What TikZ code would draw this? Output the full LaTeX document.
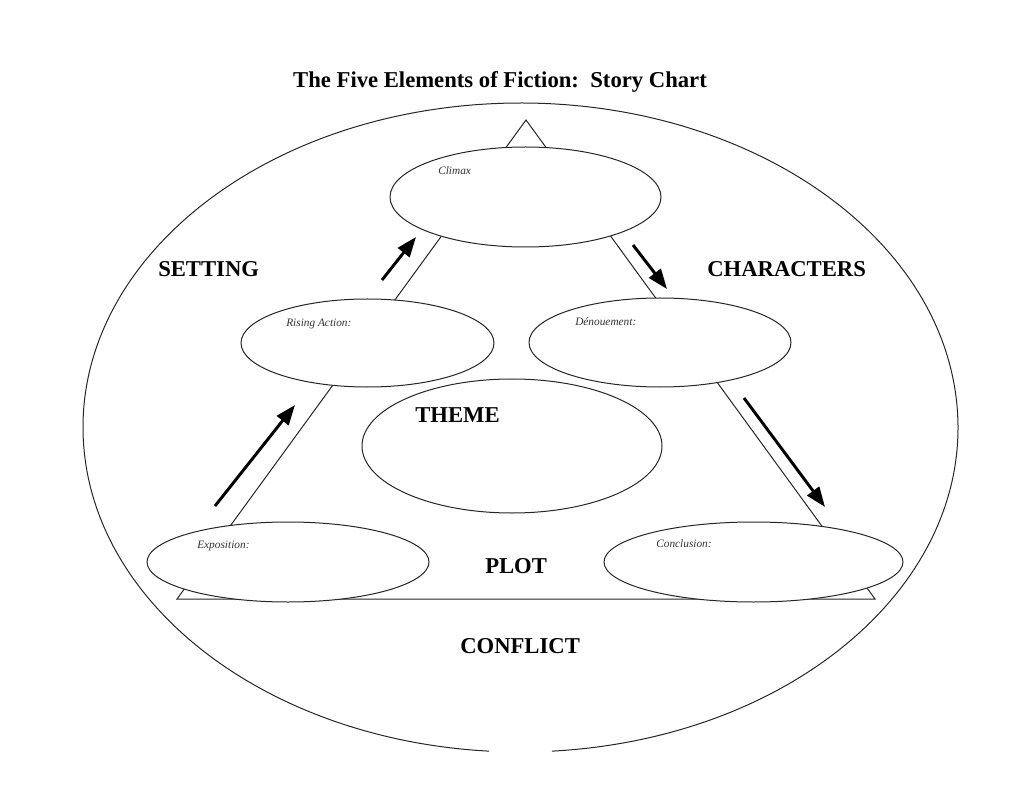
\documentclass[tikz,border=0pt]{standalone}
\usepackage{fontspec}
\setmainfont{Liberation Serif}
\usetikzlibrary{shapes.geometric,arrows.meta}
\tikzset{
  thin line/.style={draw=black!85, line width=0.75pt},
  bubble/.style={ellipse, thin line, fill=white, inner sep=0pt},
  biglabel/.style={anchor=base west, inner sep=0pt, font=\fontsize{17}{20}\selectfont\bfseries},
  smalllabel/.style={anchor=base west, inner sep=0pt, text=black!80, font=\fontsize{8.5}{10}\selectfont\itshape},
  flow/.style={line width=2.2pt, -{Triangle[length=15pt,width=11pt]}}
}
\begin{document}
\begin{tikzpicture}[x=0.75pt,y=-0.75pt]
\useasboundingbox (0,0) rectangle (1024,791);
% big outer ellipse (with the small gap at the bottom)
\coordinate (bigc) at (520.5,427.5);
\draw[thin line] ([shift={(274.1:328.125pt and 243.375pt)}]bigc)
  arc[start angle=274.1, end angle=625.9, x radius=328.125pt, y radius=243.375pt];
% title
\node[anchor=base, inner sep=0pt, font=\fontsize{17}{20}\selectfont\bfseries] (title) at (500,88) {The Five Elements of Fiction:\ \ Story Chart};
% triangle
\coordinate (apex) at (526,120);
\coordinate (bl) at (177,599);
\coordinate (br) at (875,599);
\draw[thin line] (bl) -- (apex) -- (br) -- cycle;
% bubbles
\node[bubble, minimum width=203.25pt, minimum height=75pt] (climax) at (525.5,197) {};
\node[bubble, minimum width=189.75pt, minimum height=66pt] (rising) at (367.5,343) {};
\node[bubble, minimum width=196.5pt, minimum height=66.75pt] (denoue) at (660,342.5) {};
\node[bubble, minimum width=211.5pt, minimum height=60pt] (expo) at (288,562) {};
\node[bubble, minimum width=224.25pt, minimum height=60pt] (concl) at (753.5,562) {};
\node[bubble, minimum width=225pt, minimum height=100.5pt] (theme) at (512,446) {};
% small labels
\node[smalllabel] (lclimax) at (438,175) {Climax};
\node[smalllabel] (lrising) at (286,326.5) {Rising Action:};
\node[smalllabel] (ldenoue) at (575,326) {Dénouement:};
\node[smalllabel] (lexpo) at (197,548) {Exposition:};
\node[smalllabel] (lconcl) at (656,547.5) {Conclusion:};
% big labels
\node[biglabel] (setting) at (158,277) {SETTING};
\node[biglabel] (characters) at (707,277) {CHARACTERS};
\node[biglabel] (ltheme) at (415,422) {THEME};
\node[biglabel] (plot) at (485,573) {PLOT};
\node[biglabel] (conflict) at (460,653) {CONFLICT};
% arrows
\coordinate (a1s) at (215,506); \coordinate (a1e) at (295,405);
\coordinate (a2s) at (382,280); \coordinate (a2e) at (416,237);
\coordinate (a3s) at (633,245); \coordinate (a3e) at (667,289);
\coordinate (a4s) at (744,398); \coordinate (a4e) at (825,507);
\draw[flow] (a1s) -- (a1e);
\draw[flow] (a2s) -- (a2e);
\draw[flow] (a3s) -- (a3e);
\draw[flow] (a4s) -- (a4e);
\end{tikzpicture}
\end{document}
